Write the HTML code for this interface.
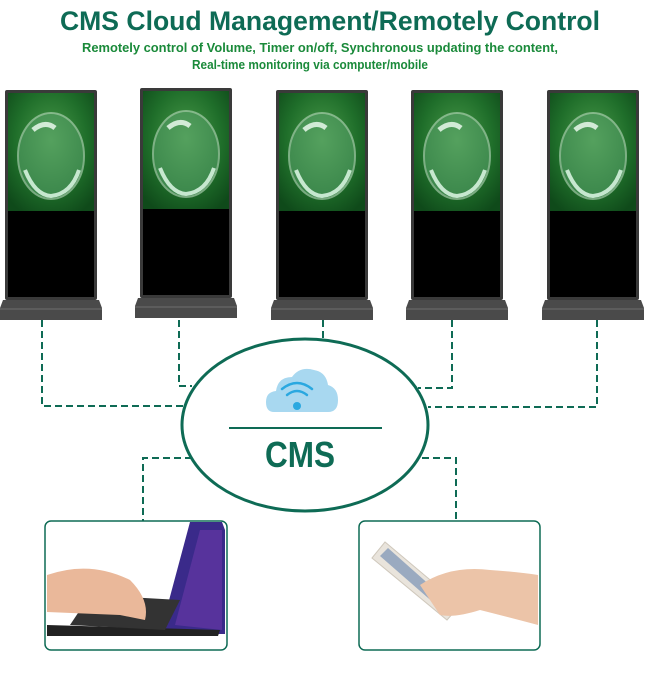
<!DOCTYPE html>
<html><head><meta charset="utf-8"><style>
html,body{margin:0;padding:0;background:#fff;width:670px;height:678px;overflow:hidden}
</style></head><body>
<svg width="670" height="678" viewBox="0 0 670 678" xmlns="http://www.w3.org/2000/svg">
<defs>
<radialGradient id="g" cx="0.5" cy="0.4" r="0.7">
<stop offset="0" stop-color="#4a9a4a"/><stop offset="0.6" stop-color="#1f6e2a"/><stop offset="1" stop-color="#0f4a1a"/>
</radialGradient>
<g id="k">
<rect x="0" y="0" width="92" height="210" rx="2" fill="#3a3a3a"/>
<rect x="3" y="3" width="86" height="118" fill="url(#g)"/>
<ellipse cx="46" cy="66" rx="33" ry="43" fill="#5fa872" opacity="0.5" stroke="#d8f0dc" stroke-width="2"/>
<path d="M20 80 Q30 105 46 106 Q66 104 74 80" fill="none" stroke="#e8fff0" stroke-width="4" opacity="0.8"/>
<path d="M28 40 Q40 30 50 38" fill="none" stroke="#f4fff6" stroke-width="5" opacity="0.8"/>
<rect x="3" y="121" width="86" height="86" fill="#000"/>
<path d="M-2 210 L94 210 L97 218 L97 230 L-5 230 L-5 218 Z" fill="#4a4a4a"/>
<rect x="-5" y="218" width="102" height="2" fill="#5c5c5c"/>
</g>
</defs>
<text x="330" y="30" text-anchor="middle" font-family="Liberation Sans, sans-serif" font-size="27" font-weight="bold" fill="#0e6b55" textLength="540" lengthAdjust="spacingAndGlyphs">CMS Cloud Management/Remotely Control</text>
<text x="320" y="52" text-anchor="middle" font-family="Liberation Sans, sans-serif" font-size="13" font-weight="bold" fill="#1a8a3a" textLength="476" lengthAdjust="spacingAndGlyphs">Remotely control of Volume, Timer on/off, Synchronous updating the content,</text>
<text x="310" y="69" text-anchor="middle" font-family="Liberation Sans, sans-serif" font-size="13" font-weight="bold" fill="#1a8a3a" textLength="236" lengthAdjust="spacingAndGlyphs">Real-time monitoring via computer/mobile</text>

<use href="#k" x="5" y="90"/>
<use href="#k" x="140" y="88"/>
<use href="#k" x="276" y="90"/>
<use href="#k" x="411" y="90"/>
<use href="#k" x="547" y="90"/>

<g fill="none" stroke="#0e6b55" stroke-width="2" stroke-dasharray="7,4">
<path d="M42 320 V406 H186"/>
<path d="M179 320 V386 H192"/>
<path d="M323 320 V339"/>
<path d="M452 320 V388 H418"/>
<path d="M597 320 V407 H428"/>
<path d="M192 458 H143 V521"/>
<path d="M422 458 H456 V521"/>
</g>
<ellipse cx="305" cy="425" rx="123" ry="86" fill="#fff" stroke="#0e6b55" stroke-width="3"/>
<path d="M274 412 Q266 412 266 402 Q266 392 276 391 Q278 377 292 377 Q300 366 314 370 Q326 372 328 385 Q338 388 338 400 Q338 412 328 412 Z" fill="#a8d8f0"/>
<g fill="none" stroke="#2aa8e0" stroke-width="2.5" stroke-linecap="round">
<path d="M282 389 Q297 377 312 389"/><path d="M287 395 Q297 387 307 395"/>
</g>
<circle cx="297" cy="406" r="4" fill="#2aa8e0"/>
<line x1="229" y1="428" x2="382" y2="428" stroke="#0e6b55" stroke-width="2"/>
<text x="300" y="467" text-anchor="middle" font-family="Liberation Sans, sans-serif" font-size="36" font-weight="bold" fill="#0e6b55" textLength="70" lengthAdjust="spacingAndGlyphs">CMS</text>

<rect x="45" y="521" width="182" height="129" rx="6" fill="#fff" stroke="#0e6b55" stroke-width="1.5"/>
<path d="M190 522 L222 522 L225 530 L225 634 L160 634 Z" fill="#3a2a8a"/>
<path d="M200 530 L222 530 L222 630 L175 625 Z" fill="#6a3aa8" opacity="0.6"/>
<path d="M47 625 L220 630 L218 636 L47 636 Z" fill="#222"/>
<path d="M90 595 L180 600 L165 630 L70 625 Z" fill="#333"/>
<path d="M47 575 Q90 560 130 580 Q150 600 145 620 L120 615 L47 612 Z" fill="#eab89a"/>
<rect x="359" y="521" width="181" height="129" rx="6" fill="#fff" stroke="#0e6b55" stroke-width="1.5"/>
<path d="M372 558 L385 542 L460 605 L447 620 Z" fill="#e9e4dc" stroke="#cfc8bc"/>
<path d="M380 556 L388 548 L450 603 L443 611 Z" fill="#9aaac0"/>
<path d="M420 585 Q450 565 490 570 Q520 572 538 575 L538 625 Q500 615 480 610 Q455 618 440 615 Q430 600 420 585 Z" fill="#ecc4a8"/>
</svg>
</body></html>
